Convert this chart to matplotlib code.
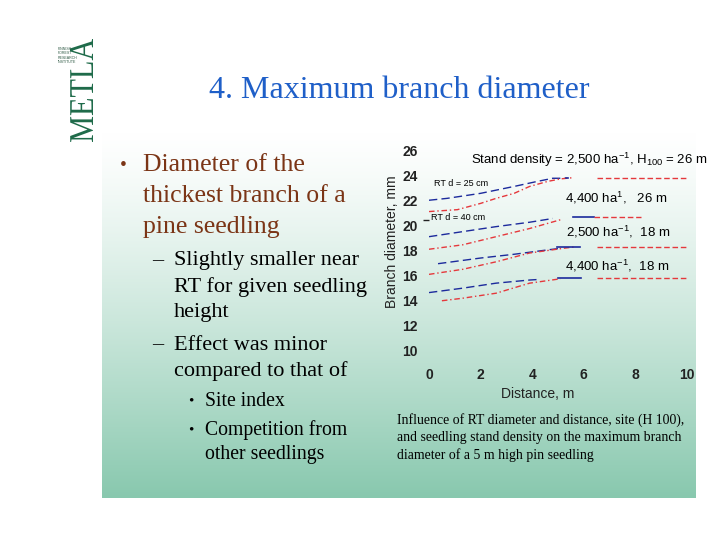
import matplotlib
matplotlib.use("Agg")
import matplotlib.pyplot as plt
import numpy as np
from matplotlib.textpath import TextPath
from matplotlib.patches import PathPatch
from matplotlib.font_manager import FontProperties
from matplotlib.transforms import Affine2D

plt.rcParams['mathtext.fontset'] = 'custom'
plt.rcParams['mathtext.rm'] = 'Liberation Sans'
plt.rcParams['mathtext.it'] = 'Liberation Sans'

# --- chart data (distance m, branch diameter mm) ---
# 2,500 ha-1, H100 = 26 m
dist_b1 = [0.0, 0.7, 2.0, 3.3, 4.2, 4.8, 5.3]
diam_b1 = [22.0, 22.15, 22.55, 23.1, 23.5, 23.75, 23.75]
dist_r1 = [0.0, 1.1, 2.0, 2.6, 3.3, 3.9, 4.6, 5.1, 5.6]
diam_r1 = [21.1, 21.25, 21.75, 22.15, 22.55, 23.1, 23.5, 23.7, 23.8]
# 4,400 ha-1, 26 m
dist_b2 = [0.0, 1.3, 2.6, 3.9, 4.8]
diam_b2 = [19.1, 19.5, 19.9, 20.25, 20.55]
dist_r2 = [0.0, 1.3, 2.6, 3.9, 5.1]
diam_r2 = [18.1, 18.45, 19.1, 19.75, 20.45]
# 2,500 ha-1, 18 m
dist_b3 = [0.35, 2.0, 3.3, 4.6, 5.0]
diam_b3 = [16.95, 17.4, 17.7, 18.05, 18.15]
dist_r3 = [0.0, 1.3, 2.6, 3.9, 5.3, 5.7]
diam_r3 = [16.1, 16.5, 17.1, 17.8, 18.2, 18.3]
# 4,400 ha-1, 18 m
dist_b4 = [0.0, 1.3, 2.6, 3.9, 4.3]
diam_b4 = [14.65, 15.0, 15.4, 15.65, 15.7]
dist_r4 = [0.5, 1.3, 2.6, 3.9, 5.1]
diam_r4 = [14.0, 14.2, 14.6, 15.4, 15.75]

# level parts: (start, end, value)
solid_blue = [(5.3, 5.4, 23.75), (5.6, 6.4, 20.65), (4.95, 5.85, 18.3), (5.0, 5.9, 15.8)]
level_red = [(6.5, 10.0, 23.8), (6.4, 8.2, 20.65), (6.5, 10.0, 18.3), (6.5, 10.0, 15.8)]

blue = '#1c2a9c'
red = '#e5383c'

fig = plt.figure(figsize=(7.2, 5.4), dpi=100)
fig.patch.set_facecolor('white')

# slide overlay in pixel coordinates (y downward)
bg = fig.add_axes([0, 0, 1, 1])
bg.set_xlim(0, 720)
bg.set_ylim(540, 0)
bg.axis('off')

top = np.array([1.0, 1.0, 1.0])
bottom = np.array([0x88, 0xc8, 0xae]) / 255
t = np.linspace(0, 1, 256) ** 1.25
grad = top[None, :] * (1 - t[:, None]) + bottom[None, :] * t[:, None]
bg.imshow(grad[:, None, :], extent=[102, 696, 498, 132], aspect='auto', zorder=0)

# logo
fp = FontProperties(family='Liberation Serif')
tp = TextPath((0, 0), 'METLA', size=40, prop=fp)
ext = tp.get_extents()
sx = 103 / ext.width
sy = 23 / ext.height
tr = Affine2D().translate(-ext.x0, -ext.y0) + Affine2D.from_values(0, -sx, -sy, 0, 93, 142)
bg.add_patch(PathPatch(tr.transform_path(tp), color='#1f6b4a', lw=0, zorder=2))
for i, w in enumerate(['FINNISH', 'FOREST', 'RESEARCH', 'INSTITUTE']):
    bg.text(58, 49 + i * 4.3, w, fontsize=2.6, color='#2f5a45', family='Liberation Sans', va='center')

bg.text(399, 90, '4. Maximum branch diameter', fontsize=23, color='#1f5fc8',
        family='Liberation Serif', ha='center', va='center')

brown = '#7b3516'
bg.text(120, 165, '•', fontsize=14, color=brown, family='Liberation Serif', va='center')
for i, s in enumerate(['Diameter of the', 'thickest branch of a', 'pine seedling']):
    bg.text(143, 165 + i * 31, s, fontsize=18.5, color=brown, family='Liberation Serif', va='center')

sub = [(261, '–', 'Slightly smaller near'), (287, None, 'RT for given seedling'),
       (313, None, 'height'), (345, '–', 'Effect was minor'), (371, None, 'compared to that of')]
for y, mark, s in sub:
    if mark:
        bg.text(152, y, mark, fontsize=16, color='black', family='Liberation Serif', va='center')
    bg.text(174, y, s, fontsize=16, color='black', family='Liberation Serif', va='center')

subsub = [(401, '•', 'Site index'), (430, '•', 'Competition from'), (455, None, 'other seedlings')]
for y, mark, s in subsub:
    if mark:
        bg.text(188, y, mark, fontsize=11, color='black', family='Liberation Serif', va='center')
    bg.text(205, y, s, fontsize=14.2, color='black', family='Liberation Serif', va='center')

caption = ['Influence of RT diameter and distance, site (H 100),',
           'and seedling stand density on the maximum branch',
           'diameter of a 5 m high pin seedling']
for i, s in enumerate(caption):
    bg.text(397, 420 + i * 17.5, s, fontsize=9.9, color='black', family='Liberation Serif', va='center')

# chart
ax = fig.add_axes([429 / 720, 1 - 351 / 540, 258 / 720, 201 / 540])
ax.set_facecolor('none')
ax.set_xlim(0, 10)
ax.set_ylim(10, 26)
for sp in ax.spines.values():
    sp.set_visible(False)
ax.set_xticks([0, 2, 4, 6, 8, 10])
ax.set_yticks(range(10, 27, 2))
ax.tick_params(length=0, labelsize=10, colors='#222222')
ax.tick_params(axis='y', pad=8)
ax.tick_params(axis='x', pad=12)
ax.set_xticks([10], minor=True)
ax.set_yticks([20.4], minor=True)
ax.tick_params(which='minor', length=4, width=1, direction='out', color='#222222')
for lab in ax.get_xticklabels() + ax.get_yticklabels():
    lab.set_family('Liberation Sans')
    lab.set_weight('bold')

for d, v in [(dist_b1, diam_b1), (dist_b2, diam_b2), (dist_b3, diam_b3), (dist_b4, diam_b4)]:
    ax.plot(d, v, color=blue, lw=1, dashes=(6, 3))
for d, v in [(dist_r1, diam_r1), (dist_r2, diam_r2), (dist_r3, diam_r3), (dist_r4, diam_r4)]:
    ax.plot(d, v, color=red, lw=1, dashes=(4, 2, 1, 2))
for a, b, v in solid_blue:
    ax.plot([a, b], [v, v], color=blue, lw=1.2)
for a, b, v in level_red:
    ax.plot([a, b], [v, v], color=red, lw=1, dashes=(4, 2))

fig.text(392 / 720, 1 - 242 / 540, 'Branch diameter, mm', rotation=90, fontsize=10,
         family='Liberation Sans', ha='center', va='center', color='#222222')
fig.text(538 / 720, 1 - 394 / 540, 'Distance, m', fontsize=10,
         family='Liberation Sans', ha='center', va='center', color='#222222')

sans = 'Liberation Sans'
bg.text(471, 160, 'Stand density = 2,500 ha$^{-1}$, H$_{100}$ = 26 m', fontsize=9.5, family=sans, va='center')
bg.text(565, 198, '4,400 ha$^{1}$,   26 m', fontsize=9.5, family=sans, va='center')
bg.text(566, 232, '2,500 ha$^{-1}$,  18 m', fontsize=9.5, family=sans, va='center')
bg.text(565, 266, '4,400 ha$^{-1}$,  18 m', fontsize=9.5, family=sans, va='center')
bg.text(434, 183, 'RT d = 25 cm', fontsize=6.5, family=sans, va='center')
bg.text(431, 218, 'RT d = 40 cm', fontsize=6.5, family=sans, va='center')

fig.savefig('out.png', dpi=100)
